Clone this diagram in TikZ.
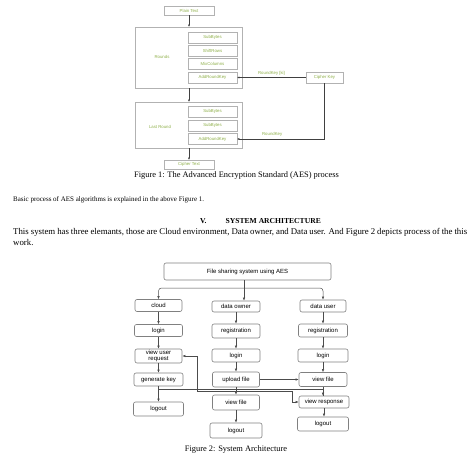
\documentclass[tikz,border=0pt]{standalone}
\usepackage{fontspec}
\setmainfont{Liberation Serif}
\setsansfont{Liberation Sans}
\usetikzlibrary{positioning, arrows.meta}

\definecolor{aesgreen}{HTML}{8FB04A}

\begin{document}
\begin{tikzpicture}[x=1pt, y=-1pt, >={Latex[length=3pt,width=2.4pt]},
    aesbox/.style={draw=gray!60, line width=0.6pt, inner sep=0pt, text=aesgreen,
        font=\sffamily\fontsize{4.3}{5}\selectfont, minimum width=49pt, minimum height=11pt},
    aesframe/.style={draw=gray!60, line width=0.6pt, inner sep=0pt, minimum width=107pt},
    aeslbl/.style={text=aesgreen, font=\sffamily\fontsize{4.3}{5}\selectfont, inner sep=1pt},
    aesarr/.style={draw=gray!50!black, line width=0.35pt, -{Latex[length=2pt,width=2pt]}},
    sysbox/.style={draw=gray, line width=0.6pt, rounded corners=2pt, inner sep=0pt, align=center,
        font=\sffamily\fontsize{6}{6.5}\selectfont, minimum width=48pt, minimum height=12pt},
    sysline/.style={draw=black!70, line width=0.5pt},
    sysarr/.style={sysline, ->},
    body/.style={font=\fontsize{8.4}{10}\selectfont, inner sep=0pt}]
    \useasboundingbox[fill=white] (0,0) rectangle (474,461);

    % Figure 1: AES process
    \node[aesbox, minimum width=50pt, minimum height=9pt] (plain) at (189,10.5) {Plain Text};
    \node[aesframe, minimum height=61pt] (rounds) at (189,57.5) {};
    \node[aeslbl] (roundslbl) at (162,57) {Rounds};
    \node[aesbox] (sb1) at (212.5,37.5) {SubBytes};
    \node[aesbox] (sr1) at (212.5,50.5) {ShiftRows};
    \node[aesbox] (mc1) at (212.5,63.5) {MixColumns};
    \node[aesbox] (ark1) at (212.5,77.5) {AddRoundKey};
    \node[aesbox, minimum width=37pt] (ckey) at (324.5,77.5) {Cipher Key};
    \node[aesframe, minimum height=46pt] (last) at (189,125) {};
    \node[aeslbl] (lastlbl) at (160,127) {Last Round};
    \node[aesbox] (sb2) at (212.5,111.5) {SubBytes};
    \node[aesbox] (sr2) at (212.5,125.5) {SubBytes};
    \node[aesbox] (ark2) at (212.5,139) {AddRoundKey};
    \node[aesbox, minimum width=50pt, minimum height=9pt] (ctext) at (189,164.5) {Cipher Text};

    \draw[aesarr] (plain) -- (rounds);
    \draw[aesarr] (rounds) -- (last);
    \draw[aesarr] (last) -- (ctext);
    \draw[aesarr] (ckey) -- node[aeslbl, above=1pt] {RoundKey [ki]} (ark1);
    \draw[aesarr] (ckey) |- node[aeslbl, pos=0.8, above=1pt] {RoundKey} (ark2);

    \node[body] (cap1) at (236.5,175) {Figure 1: The Advanced Encryption Standard (AES) process};

    % text between the figures
    \node[body, font=\fontsize{7}{8}\selectfont, anchor=west] (basic) at (13,200)
        {Basic process of AES algorithms is explained in the above Figure 1.};
    \node[body, font=\bfseries\fontsize{7.6}{9}\selectfont, anchor=west] (sec) at (200,221)
        {V.\hspace{19pt}SYSTEM ARCHITECTURE};
    \node[body, font=\fontsize{8.8}{10}\selectfont, anchor=west] (para) at (13,232)
        {\makebox[454pt][s]{This system has three elemants, those are Cloud environment, Data owner, and Data user. And Figure 2 depicts process of the this}};
    \node[body, font=\fontsize{8.8}{10}\selectfont, anchor=west] (work) at (13,243) {work.};

    % Figure 2: system architecture
    \node[sysbox, minimum width=167pt, minimum height=17pt] (top) at (247.5,271.5) {File sharing system using AES};

    \node[sysbox, minimum width=47pt] (cloud) at (158.5,305.5) {cloud};
    \node[sysbox] (login1) at (158.5,330.5) {login};
    \node[sysbox, minimum width=47pt, minimum height=14pt] (vreq) at (158.5,356) {view user\\request};
    \node[sysbox, minimum width=49pt, minimum height=13pt] (genkey) at (158.5,379.5) {generate key};
    \node[sysbox, minimum width=50pt, minimum height=14pt] (logout1) at (158.5,409) {logout};

    \node[sysbox, minimum height=11pt] (downer) at (236,306.5) {data owner};
    \node[sysbox, minimum height=14pt] (reg2) at (236,331) {registration};
    \node[sysbox, minimum height=13pt] (login2) at (236,355.5) {login};
    \node[sysbox, minimum width=47pt, minimum height=15pt] (upload) at (236,379.5) {upload file};
    \node[sysbox, minimum width=47pt, minimum height=15pt] (vfile2) at (236,402.5) {view file};
    \node[sysbox, minimum width=52pt, minimum height=15pt] (logout2) at (236,430.5) {logout};

    \node[sysbox, minimum width=46pt] (duser) at (323,306) {data user};
    \node[sysbox, minimum width=49pt, minimum height=13pt] (reg3) at (323,330.5) {registration};
    \node[sysbox, minimum width=50pt, minimum height=13pt] (login3) at (323,355.5) {login};
    \node[sysbox, minimum height=14pt] (vfile3) at (323,379.5) {view file};
    \node[sysbox, minimum width=50pt] (vresp) at (324,402) {view response};
    \node[sysbox, minimum width=51pt, minimum height=14pt] (logout3) at (323,424) {logout};

    \coordinate (split) at (244,288);
    \draw[sysline] (top.south -| split) -- (split);
    \draw[sysarr, rounded corners=3pt] (split) -| (cloud);
    \draw[sysarr, rounded corners=3pt] (split) -| (duser);
    \draw[sysarr] (split) -- (split |- downer.north);

    \foreach \a/\b in {cloud/login1, login1/vreq, vreq/genkey, genkey/logout1,
        downer/reg2, reg2/login2, login2/upload, upload/vfile2, vfile2/logout2,
        duser/reg3, reg3/login3, login3/vfile3, vfile3/vresp, vresp/logout3}
        \draw[sysarr] (\a) -- (\a |- \b.north);

    \draw[sysarr] (upload) -- (vfile3);
    \draw[sysline] (genkey.south) -- ++(0,3) -| (vfile3.south |- vresp.north);
    \coordinate (bend) at (292,391);
    \draw[sysline, <->] (vreq.east) -- ++(15,0) |- (bend) |- (vresp.west);

    \node[body] (cap2) at (236,449) {Figure 2: System Architecture};
\end{tikzpicture}
\end{document}
